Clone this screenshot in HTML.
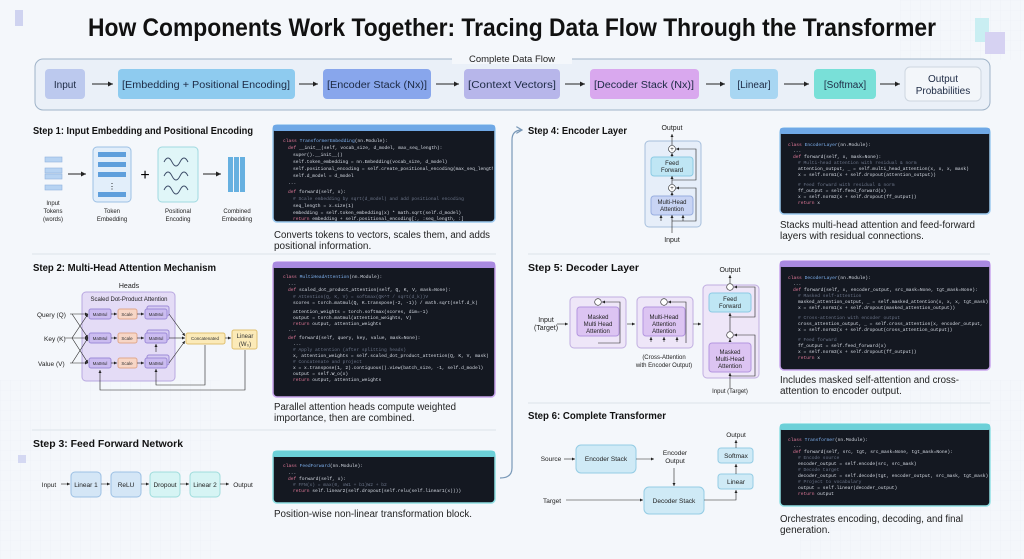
<!DOCTYPE html>
<html><head><meta charset="utf-8"><style>
html,body{margin:0;padding:0;background:#f3f6fa;}
svg{display:block;font-family:"Liberation Sans",sans-serif;}
.t{font-weight:bold;font-size:10px;fill:#111;}
.l{font-size:7px;fill:#222;text-anchor:middle;}
.s{font-size:6px;fill:#222;text-anchor:middle;}
.cap{font-size:10px;fill:#222;}
.c{font-family:"Liberation Mono",monospace;font-size:4.6px;fill:#d8dde6;}
.k{fill:#e57a9a}.f{fill:#7fb2f0}.m{fill:#6b7488}
.chip{font-size:10px;fill:#1d2a44;text-anchor:middle;}
</style></head><body>
<svg width="1024" height="559" viewBox="0 0 1024 559" xmlns="http://www.w3.org/2000/svg">
<defs>
<pattern id="g" width="10" height="10" patternUnits="userSpaceOnUse"><path d="M10 0H0V10" fill="none" stroke="#e6ebf2" stroke-width="0.6"/></pattern>
<marker id="a" markerWidth="6" markerHeight="6" refX="5" refY="3" orient="auto"><path d="M0,0.5 L5,3 L0,5.5z" fill="#222"/></marker>
<marker id="a2" markerWidth="6" markerHeight="6" refX="5" refY="3" orient="auto"><path d="M0,0 L5,3 L0,6" fill="none" stroke="#7a99b8" stroke-width="1"/></marker>
<clipPath id="c1"><rect x="275" y="131" width="218" height="90"/></clipPath>
<clipPath id="c2"><rect x="275" y="268" width="218" height="128"/></clipPath>
<clipPath id="c3"><rect x="275" y="457" width="218" height="45"/></clipPath>
<clipPath id="c4"><rect x="782" y="134" width="206" height="79"/></clipPath>
<clipPath id="c5"><rect x="782" y="267" width="206" height="102"/></clipPath>
<clipPath id="c6"><rect x="782" y="430" width="206" height="75"/></clipPath>
</defs>
<rect width="1024" height="559" fill="#f4f7fb"/>
<rect x="0" y="380" width="220" height="179" fill="url(#g)" opacity="0.7"/>
<rect x="800" y="380" width="224" height="179" fill="url(#g)" opacity="0.7"/>
<rect x="900" y="0" width="124" height="60" fill="url(#g)" opacity="0.7"/>
<rect x="15" y="10" width="8" height="16" fill="#cfd3f0"/>
<rect x="975" y="18" width="14" height="24" fill="#c9eef2"/>
<rect x="985" y="32" width="20" height="22" fill="#d6d2f2"/>
<rect x="18" y="455" width="8" height="8" fill="#d4d8f2"/>

<text x="512" y="36" text-anchor="middle" font-size="25" font-weight="bold" fill="#111" textLength="848" lengthAdjust="spacingAndGlyphs">How Components Work Together: Tracing Data Flow Through the Transformer</text>

<!-- flow bar -->
<rect x="35" y="59" width="955" height="51" rx="8" fill="#eaf0f8" stroke="#9fb3c8" stroke-width="1"/>
<rect x="452" y="52" width="120" height="12" fill="#f4f7fb"/>
<text x="512" y="62" text-anchor="middle" font-size="9.5" fill="#222">Complete Data Flow</text>
<g>
<rect x="45" y="69" width="40" height="30" rx="4" fill="#bcc9ee"/><text class="chip" x="65" y="88">Input</text>
<rect x="118" y="69" width="177" height="30" rx="4" fill="#8ecbef"/><text class="chip" x="206" y="88" textLength="168" lengthAdjust="spacingAndGlyphs">[Embedding + Positional Encoding]</text>
<rect x="323" y="69" width="108" height="30" rx="4" fill="#88a6ec"/><text class="chip" x="377" y="88" textLength="100" lengthAdjust="spacingAndGlyphs">[Encoder Stack (Nx)]</text>
<rect x="464" y="69" width="96" height="30" rx="4" fill="#b7b6ea"/><text class="chip" x="512" y="88" textLength="88" lengthAdjust="spacingAndGlyphs">[Context Vectors]</text>
<rect x="590" y="69" width="109" height="30" rx="4" fill="#d9a8ee"/><text class="chip" x="644" y="88" textLength="100" lengthAdjust="spacingAndGlyphs">[Decoder Stack (Nx)]</text>
<rect x="730" y="69" width="48" height="30" rx="4" fill="#a8d6f2"/><text class="chip" x="754" y="88">[Linear]</text>
<rect x="814" y="69" width="62" height="30" rx="4" fill="#79e0d8"/><text class="chip" x="845" y="88">[Softmax]</text>
<rect x="905" y="67" width="76" height="34" rx="5" fill="#f3f6fa" stroke="#cdd6e0"/><text class="chip" x="943" y="82">Output</text><text class="chip" x="943" y="94">Probabilities</text>
<g stroke="#222" stroke-width="1" marker-end="url(#a)">
<line x1="92" y1="84" x2="113" y2="84"/><line x1="299" y1="84" x2="318" y2="84"/><line x1="436" y1="84" x2="459" y2="84"/>
<line x1="565" y1="84" x2="585" y2="84"/><line x1="706" y1="84" x2="725" y2="84"/>
<line x1="784" y1="84" x2="809" y2="84"/><line x1="880" y1="84" x2="900" y2="84"/>
</g>
</g>

<!-- separators -->
<g stroke="#dde3ea"><line x1="32" y1="254" x2="496" y2="254"/><line x1="32" y1="430" x2="496" y2="430"/><line x1="528" y1="254" x2="990" y2="254"/><line x1="528" y1="403" x2="990" y2="403"/></g>
<!-- connector -->
<path d="M500 478 Q512 478 512 468 V140 Q512 130 522 130" fill="none" stroke="#7a99b8" stroke-width="1.2" marker-end="url(#a2)"/>

<!-- Step 1 -->
<text class="t" x="33" y="134" textLength="220" lengthAdjust="spacingAndGlyphs">Step 1: Input Embedding and Positional Encoding</text>
<g fill="#b7d3f2" stroke="#8fb3dc" stroke-width="0.6">
<rect x="45" y="157" width="17" height="5"/><rect x="45" y="168" width="17" height="5"/><rect x="45" y="174" width="17" height="5"/><rect x="45" y="185" width="17" height="5"/></g>
<text class="s" x="53" y="205">Input</text><text class="s" x="53" y="213">Tokens</text><text class="s" x="53" y="221">(words)</text>
<line x1="68" y1="174" x2="86" y2="174" stroke="#222" marker-end="url(#a)"/>
<rect x="93" y="147" width="38" height="55" rx="4" fill="#e2eefa" stroke="#9cc0e4"/>
<g fill="#5f9fdc"><rect x="98" y="152" width="28" height="5"/><rect x="98" y="162" width="28" height="5"/><rect x="98" y="172" width="28" height="5"/><rect x="98" y="192" width="28" height="5"/></g>
<text x="112" y="189" font-size="8" text-anchor="middle">⋮</text>
<text class="s" x="112" y="213">Token</text><text class="s" x="112" y="221">Embedding</text>
<text x="145" y="180" font-size="16" text-anchor="middle">+</text>
<rect x="158" y="147" width="40" height="55" rx="4" fill="#e0f6f8" stroke="#9fd9e0"/>
<g fill="none" stroke="#3a4a66" stroke-width="0.9"><path d="M164 162 q4 -8 8 0 t8 0 t8 0"/><path d="M164 176 q4 -8 8 0 t8 0 t8 0"/><path d="M164 190 q4 -8 8 0 t8 0 t8 0"/></g>
<text class="s" x="178" y="213">Positional</text><text class="s" x="178" y="221">Encoding</text>
<line x1="203" y1="174" x2="221" y2="174" stroke="#222" marker-end="url(#a)"/>
<g fill="#66b0e0"><rect x="228" y="157" width="5" height="35"/><rect x="234" y="157" width="5" height="35"/><rect x="240" y="157" width="5" height="35"/></g>
<text class="s" x="237" y="213">Combined</text><text class="s" x="237" y="221">Embedding</text>

<!-- Step 2 -->
<text class="t" x="33" y="271" textLength="183" lengthAdjust="spacingAndGlyphs">Step 2: Multi-Head Attention Mechanism</text>
<text class="l" x="129" y="288">Heads</text>
<rect x="82" y="292" width="93" height="89" rx="4" fill="#e4dcf6" stroke="#b9a8e0"/>
<text class="s" x="129" y="301">Scaled Dot-Product Attention</text>
<g font-size="6.5" fill="#222"><text x="37" y="317">Query (Q)</text><text x="44" y="341">Key (K)</text><text x="38" y="366">Value (V)</text></g>
<g font-size="4.5" text-anchor="middle" fill="#333">
<rect x="89" y="309" width="22" height="10" rx="2" fill="#cbbcf0" stroke="#9d8bd8"/>
<rect x="89" y="333" width="22" height="10" rx="2" fill="#cbbcf0" stroke="#9d8bd8"/>
<rect x="89" y="358" width="22" height="10" rx="2" fill="#cbbcf0" stroke="#9d8bd8"/>
<rect x="118" y="309" width="19" height="10" rx="2" fill="#f7d6c6" stroke="#e0a88c"/>
<rect x="118" y="333" width="19" height="10" rx="2" fill="#f7d6c6" stroke="#e0a88c"/>
<rect x="118" y="358" width="19" height="10" rx="2" fill="#f7d6c6" stroke="#e0a88c"/>
<rect x="147" y="306" width="22" height="10" rx="2" fill="#d6ccf2" stroke="#9d8bd8"/><rect x="145" y="309" width="22" height="10" rx="2" fill="#cbbcf0" stroke="#9d8bd8"/>
<rect x="147" y="330" width="22" height="10" rx="2" fill="#d6ccf2" stroke="#9d8bd8"/><rect x="145" y="333" width="22" height="10" rx="2" fill="#cbbcf0" stroke="#9d8bd8"/>
<rect x="147" y="355" width="22" height="10" rx="2" fill="#d6ccf2" stroke="#9d8bd8"/><rect x="145" y="358" width="22" height="10" rx="2" fill="#cbbcf0" stroke="#9d8bd8"/>
<text x="100" y="316">MatMul</text><text x="100" y="340">MatMul</text><text x="100" y="365">MatMul</text>
<text x="127" y="316">Scale</text><text x="127" y="340">Scale</text><text x="127" y="365">Scale</text>
<text x="156" y="316">MatMul</text><text x="156" y="340">MatMul</text><text x="156" y="365">MatMul</text>
<rect x="186" y="333" width="39" height="11" rx="2" fill="#fbeab8" stroke="#e0c070"/><text x="205" y="340">Concatenated</text>
<rect x="232" y="330" width="25" height="19" rx="2" fill="#fbeab8" stroke="#e0c070"/><text x="245" y="338" font-size="6">Linear</text><text x="245" y="346" font-size="6">(W₀)</text>
</g>
<g stroke="#222" stroke-width="0.6" fill="none" marker-end="url(#a)">
<line x1="70" y1="314" x2="88" y2="314"/><line x1="65" y1="338" x2="88" y2="338"/><line x1="70" y1="363" x2="88" y2="363"/>
<line x1="72" y1="314" x2="88" y2="338"/><line x1="72" y1="338" x2="88" y2="314"/><line x1="72" y1="338" x2="88" y2="363"/><line x1="72" y1="363" x2="88" y2="338"/>
<line x1="111" y1="314" x2="117" y2="314"/><line x1="111" y1="338" x2="117" y2="338"/><line x1="111" y1="363" x2="117" y2="363"/>
<line x1="137" y1="314" x2="144" y2="314"/><line x1="137" y1="338" x2="144" y2="338"/><line x1="137" y1="363" x2="144" y2="363"/>
<line x1="169" y1="314" x2="185" y2="336"/><line x1="169" y1="338" x2="185" y2="338"/><line x1="169" y1="363" x2="185" y2="341"/>
<line x1="225" y1="338" x2="231" y2="338"/>
<path d="M245 350 V390 H100 V370"/><path d="M205 345 V385 H156 V369"/><line x1="156" y1="352" x2="156" y2="344"/>
</g>

<!-- Step 3 -->
<text class="t" x="33" y="447" textLength="150" lengthAdjust="spacingAndGlyphs">Step 3: Feed Forward Network</text>
<g font-size="6.5" text-anchor="middle" fill="#222">
<text x="49" y="487">Input</text>
<rect x="71" y="472" width="30" height="25" rx="4" fill="#d4e6f6" stroke="#9cc0e4"/><text x="86" y="487">Linear 1</text>
<rect x="111" y="472" width="30" height="25" rx="4" fill="#d4e6f6" stroke="#9cc0e4"/><text x="126" y="487">ReLU</text>
<rect x="150" y="472" width="30" height="25" rx="4" fill="#d6f4f4" stroke="#9fdcdc"/><text x="165" y="487">Dropout</text>
<rect x="190" y="472" width="30" height="25" rx="4" fill="#d6f4f4" stroke="#9fdcdc"/><text x="205" y="487">Linear 2</text>
<text x="243" y="487">Output</text>
</g>
<g stroke="#222" stroke-width="0.6" marker-end="url(#a)"><line x1="61" y1="484" x2="70" y2="484"/><line x1="101" y1="484" x2="110" y2="484"/><line x1="141" y1="484" x2="149" y2="484"/><line x1="180" y1="484" x2="189" y2="484"/><line x1="220" y1="484" x2="229" y2="484"/></g>

<!-- code blocks -->
<g>
<rect x="273" y="125" width="222" height="97" rx="4" fill="#141821" stroke="#9ccaf0" stroke-width="1.5"/><rect x="273" y="125" width="222" height="6" rx="2" fill="#6fa8e6"/>
<rect x="273" y="262" width="222" height="135" rx="4" fill="#141821" stroke="#c9a6ee" stroke-width="1.5"/><rect x="273" y="262" width="222" height="6" rx="2" fill="#a98ae0"/>
<rect x="273" y="451" width="222" height="52" rx="4" fill="#141821" stroke="#90e0e4" stroke-width="1.5"/><rect x="273" y="451" width="222" height="6" rx="2" fill="#6cd0d8"/>
<rect x="780" y="128" width="210" height="86" rx="4" fill="#141821" stroke="#9ccaf0" stroke-width="1.5"/><rect x="780" y="128" width="210" height="6" rx="2" fill="#6fa8e6"/>
<rect x="780" y="261" width="210" height="109" rx="4" fill="#141821" stroke="#c9a6ee" stroke-width="1.5"/><rect x="780" y="261" width="210" height="6" rx="2" fill="#a98ae0"/>
<rect x="780" y="424" width="210" height="82" rx="4" fill="#141821" stroke="#90e0e4" stroke-width="1.5"/><rect x="780" y="424" width="210" height="6" rx="2" fill="#6cd0d8"/>
</g>
<g class="c">
<g clip-path="url(#c1)">
<text x="283" y="142"><tspan class="k">class</tspan> <tspan class="f">TransformerEmbedding</tspan>(nn.Module):</text>
<text x="288" y="149"><tspan class="k">def</tspan> __init__(self, vocab_size, d_model, max_seq_length):</text>
<text x="293" y="156">super().__init__()</text>
<text x="293" y="163">self.token_embedding = nn.Embedding(vocab_size, d_model)</text>
<text x="293" y="170">self.positional_encoding = self.create_positional_encoding(max_seq_length,</text>
<text x="293" y="177">self.d_model = d_model</text>
<text x="288" y="184">...</text>
<text x="288" y="193"><tspan class="k">def</tspan> forward(self, x):</text>
<text x="293" y="200" class="m"># Scale embedding by sqrt(d_model) and add positional encoding</text>
<text x="293" y="207">seq_length = x.size(1)</text>
<text x="293" y="214">embedding = self.token_embedding(x) * math.sqrt(self.d_model)</text>
<text x="293" y="220"><tspan class="k">return</tspan> embedding + self.positional_encoding[:, :seq_length, :]</text>
</g>
<g clip-path="url(#c2)">
<text x="283" y="278"><tspan class="k">class</tspan> <tspan class="f">MultiHeadAttention</tspan>(nn.Module):</text>
<text x="288" y="285">...</text>
<text x="288" y="291"><tspan class="k">def</tspan> scaled_dot_product_attention(self, Q, K, V, mask=None):</text>
<text x="293" y="298" class="m"># Attention(Q, K, V) = softmax(QK^T / sqrt(d_k))V</text>
<text x="293" y="304">scores = torch.matmul(Q, K.transpose(-2, -1)) / math.sqrt(self.d_k)</text>
<text x="293" y="313">attention_weights = torch.softmax(scores, dim=-1)</text>
<text x="293" y="319">output = torch.matmul(attention_weights, V)</text>
<text x="293" y="325"><tspan class="k">return</tspan> output, attention_weights</text>
<text x="288" y="331">...</text>
<text x="288" y="339"><tspan class="k">def</tspan> forward(self, query, key, value, mask=None):</text>
<text x="293" y="345">...</text>
<text x="293" y="351" class="m"># Apply attention (after splitting heads)</text>
<text x="293" y="357">x, attention_weights = self.scaled_dot_product_attention(Q, K, V, mask)</text>
<text x="293" y="363" class="m"># Concatenate and project</text>
<text x="293" y="369">x = x.transpose(1, 2).contiguous().view(batch_size, -1, self.d_model)</text>
<text x="293" y="375">output = self.W_o(x)</text>
<text x="293" y="381"><tspan class="k">return</tspan> output, attention_weights</text>
</g>
<g clip-path="url(#c3)">
<text x="283" y="467"><tspan class="k">class</tspan> <tspan class="f">FeedForward</tspan>(nn.Module):</text>
<text x="288" y="474">...</text>
<text x="288" y="480"><tspan class="k">def</tspan> forward(self, x):</text>
<text x="293" y="486" class="m"># FFN(x) = max(0, xW1 + b1)W2 + b2</text>
<text x="293" y="492"><tspan class="k">return</tspan> self.linear2(self.dropout(self.relu(self.linear1(x))))</text>
</g>
<g clip-path="url(#c4)">
<text x="788" y="146"><tspan class="k">class</tspan> <tspan class="f">EncoderLayer</tspan>(nn.Module):</text>
<text x="793" y="152">...</text>
<text x="793" y="158"><tspan class="k">def</tspan> forward(self, x, mask=None):</text>
<text x="798" y="164" class="m"># Multi-head attention with residual &amp; norm</text>
<text x="798" y="170">attention_output, _ = self.multi_head_attention(x, x, x, mask)</text>
<text x="798" y="176">x = self.norm1(x + self.dropout(attention_output))</text>
<text x="798" y="186" class="m"># Feed forward with residual &amp; norm</text>
<text x="798" y="192">ff_output = self.feed_forward(x)</text>
<text x="798" y="198">x = self.norm2(x + self.dropout(ff_output))</text>
<text x="798" y="204"><tspan class="k">return</tspan> x</text>
</g>
<g clip-path="url(#c5)">
<text x="788" y="279"><tspan class="k">class</tspan> <tspan class="f">DecoderLayer</tspan>(nn.Module):</text>
<text x="793" y="285">...</text>
<text x="793" y="291"><tspan class="k">def</tspan> forward(self, x, encoder_output, src_mask=None, tgt_mask=None):</text>
<text x="798" y="297" class="m"># Masked self-attention</text>
<text x="798" y="303">masked_attention_output, _ = self.masked_attention(x, x, x, tgt_mask)</text>
<text x="798" y="309">x = self.norm1(x + self.dropout(masked_attention_output))</text>
<text x="798" y="319" class="m"># Cross-attention with encoder output</text>
<text x="798" y="325">cross_attention_output, _ = self.cross_attention(x, encoder_output,</text>
<text x="798" y="331">x = self.norm2(x + self.dropout(cross_attention_output))</text>
<text x="798" y="341" class="m"># Feed forward</text>
<text x="798" y="347">ff_output = self.feed_forward(x)</text>
<text x="798" y="353">x = self.norm3(x + self.dropout(ff_output))</text>
<text x="798" y="359"><tspan class="k">return</tspan> x</text>
</g>
<g clip-path="url(#c6)">
<text x="788" y="441"><tspan class="k">class</tspan> <tspan class="f">Transformer</tspan>(nn.Module):</text>
<text x="793" y="447">...</text>
<text x="793" y="453"><tspan class="k">def</tspan> forward(self, src, tgt, src_mask=None, tgt_mask=None):</text>
<text x="798" y="459" class="m"># Encode source</text>
<text x="798" y="465">encoder_output = self.encode(src, src_mask)</text>
<text x="798" y="471" class="m"># Decode target</text>
<text x="798" y="477">decoder_output = self.decode(tgt, encoder_output, src_mask, tgt_mask)</text>
<text x="798" y="483" class="m"># Project to vocabulary</text>
<text x="798" y="489">output = self.linear(decoder_output)</text>
<text x="798" y="495"><tspan class="k">return</tspan> output</text>
</g>
</g>
<g class="cap">
<text x="274" y="238" textLength="216" lengthAdjust="spacingAndGlyphs">Converts tokens to vectors, scales them, and adds</text><text x="274" y="249">positional information.</text>
<text x="274" y="410" textLength="182" lengthAdjust="spacingAndGlyphs">Parallel attention heads compute weighted</text><text x="274" y="421">importance, then are combined.</text>
<text x="274" y="517" textLength="198" lengthAdjust="spacingAndGlyphs">Position-wise non-linear transformation block.</text>
<text x="780" y="228" textLength="195" lengthAdjust="spacingAndGlyphs">Stacks multi-head attention and feed-forward</text><text x="780" y="239">layers with residual connections.</text>
<text x="780" y="383" textLength="179" lengthAdjust="spacingAndGlyphs">Includes masked self-attention and cross-</text><text x="780" y="394">attention to encoder output.</text>
<text x="780" y="522" textLength="183" lengthAdjust="spacingAndGlyphs">Orchestrates encoding, decoding, and final</text><text x="780" y="533">generation.</text>
</g>

<!-- Step 4 -->
<text class="t" x="528" y="134" textLength="99" lengthAdjust="spacingAndGlyphs">Step 4: Encoder Layer</text>
<text class="l" x="672" y="130">Output</text>
<rect x="645" y="141" width="56" height="86" rx="4" fill="#e6eef9" stroke="#a6bfdc"/>
<rect x="651" y="157" width="42" height="19" rx="3" fill="#bfe6f4" stroke="#8ccbe4"/><text class="s" x="672" y="165">Feed</text><text class="s" x="672" y="172">Forward</text>
<rect x="651" y="196" width="42" height="19" rx="3" fill="#c8d4f4" stroke="#98aee0"/><text class="s" x="672" y="204">Multi-Head</text><text class="s" x="672" y="211">Attention</text>
<circle cx="672" cy="149" r="3.5" fill="#fff" stroke="#222" stroke-width="0.6"/><circle cx="672" cy="188" r="3.5" fill="#fff" stroke="#222" stroke-width="0.6"/>
<text class="s" x="672" y="151">+</text><text class="s" x="672" y="190">+</text>
<g stroke="#222" stroke-width="0.6" fill="none" marker-end="url(#a)">
<line x1="672" y1="145" x2="672" y2="134"/><line x1="672" y1="157" x2="672" y2="153"/><line x1="672" y1="196" x2="672" y2="192"/><line x1="672" y1="184" x2="672" y2="176"/>
<path d="M672 180 H696 V149 H676"/><path d="M672 221 H696 V188 H676"/>
<line x1="672" y1="233" x2="672" y2="215"/><line x1="661" y1="221" x2="661" y2="215"/><line x1="683" y1="221" x2="683" y2="215"/>
</g>
<text class="l" x="672" y="242">Input</text>

<!-- Step 5 -->
<text class="t" x="528" y="271" textLength="111" lengthAdjust="spacingAndGlyphs">Step 5: Decoder Layer</text>
<text class="l" x="546" y="322">Input</text><text class="l" x="546" y="330">(Target)</text>
<rect x="570" y="297" width="56" height="51" rx="4" fill="#eee6f8" stroke="#c0aee0"/>
<rect x="577" y="307" width="42" height="29" rx="3" fill="#dcc4f2" stroke="#b496e0"/><text class="s" x="598" y="319">Masked</text><text class="s" x="598" y="326">Multi Head</text><text class="s" x="598" y="333">Attention</text>
<rect x="637" y="297" width="56" height="51" rx="4" fill="#eee6f8" stroke="#c0aee0"/>
<rect x="643" y="307" width="42" height="29" rx="3" fill="#dcc4f2" stroke="#b496e0"/><text class="s" x="664" y="319">Multi-Head</text><text class="s" x="664" y="326">Attention</text><text class="s" x="664" y="333">Attention</text>
<text class="s" x="664" y="359">(Cross-Attention</text><text class="s" x="664" y="367">with Encoder Output)</text>
<rect x="703" y="285" width="56" height="93" rx="4" fill="#eee6f8" stroke="#c0aee0"/>
<rect x="709" y="293" width="42" height="19" rx="3" fill="#bfe6f4" stroke="#8ccbe4"/><text class="s" x="730" y="301">Feed</text><text class="s" x="730" y="308">Forward</text>
<rect x="709" y="343" width="42" height="29" rx="3" fill="#dcc4f2" stroke="#b496e0"/><text class="s" x="730" y="354">Masked</text><text class="s" x="730" y="361">Multi-Head</text><text class="s" x="730" y="368">Attention</text>
<text class="l" x="730" y="272">Output</text>
<text class="s" x="730" y="393">Input (Target)</text>
<g fill="#fff" stroke="#222" stroke-width="0.6"><circle cx="598" cy="302" r="3.3"/><circle cx="664" cy="302" r="3.3"/><circle cx="730" cy="287" r="3.3"/><circle cx="730" cy="335" r="3.3"/></g>
<g stroke="#222" stroke-width="0.6" fill="none" marker-end="url(#a)">
<line x1="557" y1="324" x2="568" y2="324"/><line x1="627" y1="324" x2="635" y2="324"/><line x1="693" y1="324" x2="701" y2="324"/>
<path d="M598 343 H620 V302 H602"/><path d="M651 342 V337"/><path d="M664 342 V337"/><path d="M677 342 V337"/><path d="M686 343 V302 H668"/>
<line x1="730" y1="283" x2="730" y2="275"/><line x1="730" y1="388" x2="730" y2="373"/><line x1="730" y1="342" x2="730" y2="339"/><line x1="730" y1="331" x2="730" y2="313"/>
<path d="M730 317 H755 V287 H734"/><path d="M730 376 H755 V335 H734"/>
</g>

<!-- Step 6 -->
<text class="t" x="528" y="419" textLength="138" lengthAdjust="spacingAndGlyphs">Step 6: Complete Transformer</text>
<g font-size="6.5" text-anchor="middle" fill="#222">
<text x="551" y="461">Source</text><text x="552" y="503">Target</text>
<rect x="576" y="445" width="60" height="28" rx="5" fill="#cfeaf6" stroke="#94cce4"/><text x="606" y="461">Encoder Stack</text>
<text x="675" y="455">Encoder</text><text x="675" y="463">Output</text>
<rect x="644" y="487" width="60" height="27" rx="5" fill="#cfeaf6" stroke="#94cce4"/><text x="674" y="503">Decoder Stack</text>
<rect x="718" y="448" width="35" height="15" rx="3" fill="#cfeaf6" stroke="#94cce4"/><text x="736" y="458">Softmax</text>
<rect x="718" y="474" width="35" height="15" rx="3" fill="#cfeaf6" stroke="#94cce4"/><text x="736" y="484">Linear</text>
<text x="736" y="437">Output</text>
</g>
<g stroke="#222" stroke-width="0.6" fill="none" marker-end="url(#a)">
<line x1="564" y1="459" x2="575" y2="459"/><line x1="636" y1="459" x2="654" y2="459"/><line x1="674" y1="468" x2="674" y2="486"/>
<line x1="566" y1="500" x2="643" y2="500"/><path d="M704 500 H736 V490"/><line x1="736" y1="474" x2="736" y2="464"/><line x1="736" y1="448" x2="736" y2="440"/>
</g>
</svg>
</body></html>
